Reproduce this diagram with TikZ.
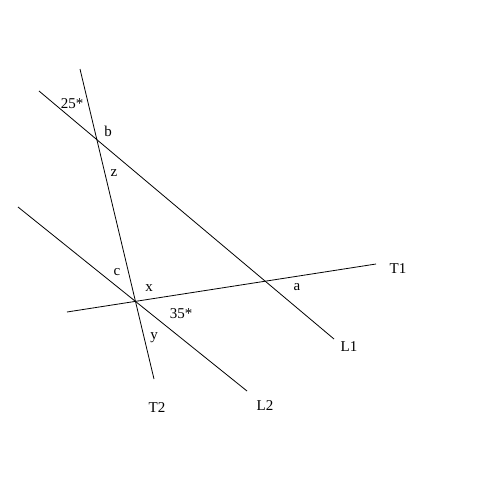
\documentclass[tikz,border=0pt]{standalone}
\usepackage{fontspec}
\setmainfont{Liberation Serif}
\usepackage{tikz}
\usetikzlibrary{positioning,calc}

\begin{document}
\begin{tikzpicture}[
x=1pt, y=-1pt,
line/.style={draw, line width=0.8pt},
lab/.style={inner sep=0pt, font=\fontsize{15}{17}\selectfont}
]
	\useasboundingbox (0,0) rectangle (482,491);
	\fill[white] (0,0) rectangle (482,491);

	% end points of the lines
	\coordinate (l1a) at (39,91);
	\coordinate (l1b) at (334,339);
	\coordinate (l2a) at (18,207);
	\coordinate (l2b) at (247,391);
	\coordinate (t1a) at (67,312);
	\coordinate (t1b) at (376,264);
	\coordinate (t2a) at (80,69);
	\coordinate (t2b) at (154,379);

	\draw [line] (l1a) -- (l1b);
	\draw [line] (l2a) -- (l2b);
	\draw [line] (t1a) -- (t1b);
	\draw [line] (t2a) -- (t2b);

	% line names
	\node [lab] at (398,269) (nt1) {T1};
	\node [lab] at (349,347) (nl1) {L1};
	\node [lab] at (157,408) (nt2) {T2};
	\node [lab] at (265,406) (nl2) {L2};

	% angles
	\node [lab] at (72,104) (a25) {25*};
	\node [lab] at (108,131) (b) {b};
	\node [lab] at (114,173) (z) {z};
	\node [lab] at (117,272) (c) {c};
	\node [lab] at (149,288) (x) {x};
	\node [lab] at (181,314) (a35) {35*};
	\node [lab] at (154,338) (y) {y};
	\node [lab] at (297,287) (a) {a};

\end{tikzpicture}
\end{document}
